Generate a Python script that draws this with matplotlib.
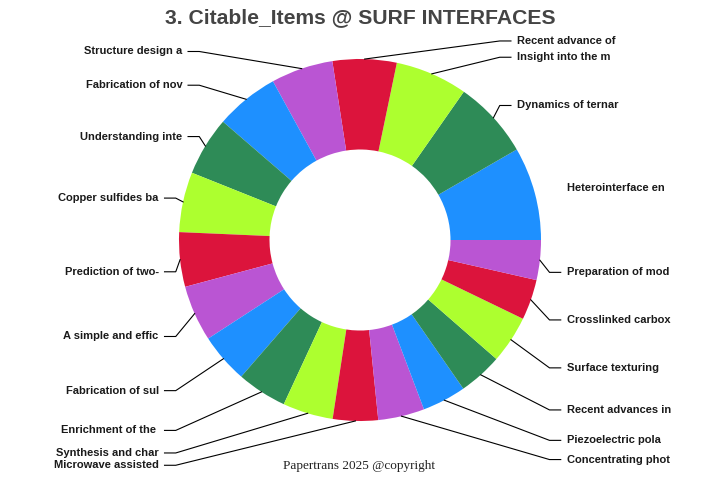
import numpy as np
import matplotlib
matplotlib.use("Agg")
import matplotlib.pyplot as plt

labels = ["Heterointerface en", "Dynamics of ternar", "Insight into the m", "Recent advance of ",
          "Structure design a", "Fabrication of nov", "Understanding inte", "Copper sulfides ba",
          "Prediction of two-", "A simple and effic", "Fabrication of sul", "Enrichment of the ",
          "Synthesis and char", "Microwave assisted", "Concentrating phot", "Piezoelectric pola",
          "Recent advances in", "Surface texturing", "Crosslinked carbox", "Preparation of mod"]
values = [30, 25, 23.25, 20.55, 19.95, 20.45, 19, 19.3, 17.5, 18,
          16, 16.1, 16.2, 14.5, 14.9, 14.1, 14.1, 15.3, 13, 12.8]
palette = ["#1E90FF", "#2E8B57", "#ADFF2F", "#DC143C", "#BA55D3"]
colors = [palette[i % len(palette)] for i in range(len(values))]

plt.rcParams['font.family'] = ['Liberation Sans', 'DejaVu Sans']

W, H, R = 720, 480, 181.0
fig = plt.figure(figsize=(7.2, 4.8), dpi=100)
ax = fig.add_axes([0, 0, 1, 1])
wedges, _ = ax.pie(values, colors=colors, startangle=0, counterclock=True, radius=1.0,
                   wedgeprops=dict(width=0.5, edgecolor='none', linewidth=0))
ax.set_xlim(-W / 2 / R, W / 2 / R)
ax.set_ylim(-H / 2 / R, H / 2 / R)
ax.set_aspect('equal')
ax.axis('off')

# label layout
mids = [np.deg2rad((w.theta1 + w.theta2) / 2) for w in wedges]
info = []
for i, a in enumerate(mids):
    c, s = np.cos(a), np.sin(a)
    side = 1 if c >= 0 else -1
    close = s > 0.4
    y = 1.1 * s if s > 0 else 1.2 * s - 0.045
    if side > 0:
        xend = 0.834 if close else 1.109
    else:
        xend = -0.950 if close else -1.080
    info.append([i, side, c, s, y, xend])

gap = 0.068
for side in (1, -1):
    lows = sorted([d for d in info if d[1] == side and d[3] < 0], key=lambda d: d[4])
    for j in range(1, len(lows)):
        if lows[j][4] < lows[j - 1][4] + gap:
            lows[j][4] = lows[j - 1][4] + gap

hseg = 0.062
tgap = 0.032
for i, side, c, s, y, xend in info:
    xelb = xend - side * hseg
    if i != 0:
        ax.plot([c * 1.0, xelb, xend], [s * 1.0, y, y], color='black', lw=0.8,
                solid_joinstyle='miter')
    ax.text(xend + side * tgap, y, labels[i], ha='left' if side > 0 else 'right',
            va='center', fontsize=8.0, fontweight='bold', color='#1a1a1a')

fig.text(0.5, 1 - 18 / H, "3. Citable_Items @ SURF INTERFACES", ha='center', va='center',
         fontsize=15.2, fontweight='bold', color='#444444')
fig.text(359 / W, 1 - 466 / H, "Papertrans 2025 @copyright", ha='center', va='center',
         fontsize=9.5, family=['Liberation Serif', 'DejaVu Serif'], color='#222222')

fig.savefig("out.png", dpi=100)
